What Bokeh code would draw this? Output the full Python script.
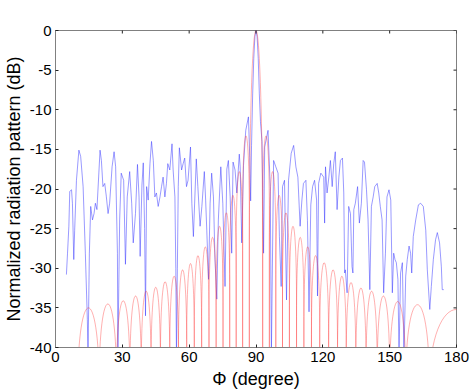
import math
from bokeh.plotting import figure
from bokeh.models import FixedTicker, Range1d
from bokeh.embed import file_html
from bokeh.resources import INLINE

# ---------------- data ----------------
X_TICKS = [0, 30, 60, 90, 120, 150, 180]
Y_TICKS = [-40, -35, -30, -25, -20, -15, -10, -5, 0]
Y_TICK_LABELS = ["-40", "-35", "-30", "-25", "-20", "-15", "-10", "-5", "0"]
X_LABEL = "\u03a6 (degree)"
Y_LABEL = "Normalized radiation pattern (dB)"

# blue: measured / synthesized pattern (degree, dB)
BLUE_X = [4.9, 5.4, 6.0, 6.4, 7.2, 7.6, 8.2, 8.6, 9.4, 10.5, 11.3, 12.4, 13.4, 14.3, 14.6,
          15.2, 15.8, 16.6, 17.3, 17.9, 18.6, 20.0, 20.6, 21.3, 22.1, 22.8, 23.6, 24.3, 25.4,
          26.3, 27.0, 27.8, 28.0, 28.8, 29.5, 30.6, 31.4, 32.2, 33.3, 34.2, 34.9, 35.9, 36.8,
          37.5, 38.0, 38.8, 39.4, 40.0, 40.4, 40.9, 41.6, 42.4, 43.1, 43.9, 44.6, 45.3, 46.1,
          46.9, 47.6, 48.3, 49.1, 49.8, 50.4, 51.3, 52.3, 52.8, 53.6, 54.0, 54.3, 54.7, 55.1,
          55.6, 56.6, 57.3, 58.0, 58.8, 59.5, 60.6, 61.2, 61.9, 63.2, 63.9, 64.9, 65.7, 66.8,
          67.4, 67.9, 68.7, 69.4, 70.1, 70.9, 71.6, 72.4, 73.1, 74.2, 75.1, 76.1, 76.9, 77.6,
          78.4, 79.1, 79.7, 80.6, 81.4, 82.5, 82.9, 83.6, 84.4, 85.4, 86.6, 87.2, 87.6, 88.0,
          88.5, 89.0, 89.5, 90.0, 90.5, 91.0, 91.5, 92.0, 92.7, 93.2, 93.4, 93.9, 95.4, 96.4,
          96.9, 97.9, 98.9, 99.9, 100.5, 101.3, 101.9, 102.8, 103.7, 104.6, 105.8, 106.9, 107.9,
          108.8, 109.8, 110.6, 111.3, 112.4, 113.1, 113.8, 114.6, 115.4, 116.3, 117.2, 117.6,
          118.1, 119.1, 120.4, 120.8, 121.2, 121.9, 122.7, 123.4, 124.2, 124.9, 125.6, 126.4,
          127.2, 127.9, 128.8, 129.4, 129.8, 130.1, 130.9, 131.6, 132.4, 133.1, 133.5, 133.9,
          134.6, 135.6, 136.4, 137.3, 138.1, 138.7, 139.6, 140.3, 141.1, 141.8, 142.6, 143.3,
          144.4, 145.1, 145.8, 146.6, 147.3, 148.1, 148.8, 149.7, 150.5, 151.2, 151.8, 152.4,
          153.0, 153.7, 154.2, 154.9, 155.7, 156.4, 157.2, 157.9, 158.7, 159.4, 159.9, 160.6,
          161.7, 162.9, 163.9, 165.1, 166.2, 166.9, 168.0, 168.7, 169.6, 170.6, 171.4, 172.4,
          173.2, 173.6, 174.3]
BLUE_Y = [-30.8, -28.1, -24.7, -20.3, -20.1, -21.8, -28.9, -25.2, -18.9, -15.1, -15.9, -19.7, -28.1, -36.5, -41.0,
          -28.1, -22.2, -23.9, -23.1, -21.8, -22.6, -15.1, -16.4, -19.7, -19.3, -20.9, -23.1, -21.8, -17.2,
          -15.3, -17.2, -28.1, -41.0, -23.9, -18.0, -18.9, -29.5, -21.0, -17.8, -21.8, -26.8, -23.1, -16.9,
          -21.0, -28.5, -19.5, -16.7, -25.0, -36.0, -19.7, -21.4, -16.8, -14.0, -16.4, -21.0, -20.5, -22.2,
          -21.0, -19.7, -18.5, -21.0, -19.3, -16.8, -17.6, -14.3, -17.6, -21.0, -30.0, -41.0, -30.0, -19.7,
          -14.8, -17.6, -16.8, -16.1, -19.7, -18.9, -14.7, -21.8, -26.0, -16.2, -19.7, -24.7, -22.2, -17.8,
          -21.4, -25.2, -31.4, -21.8, -18.0, -21.0, -28.9, -33.9, -23.9, -17.2, -21.8, -32.3, -17.5, -16.4,
          -21.0, -28.1, -16.6, -17.6, -20.5, -15.6, -17.2, -26.8, -17.0, -12.6, -10.9, -16.0, -21.5, -14.5,
          -8.0, -3.5, -0.8, 0.0, -0.8, -3.5, -8.0, -11.5, -14.0, -24.0, -28.1, -14.7, -12.6, -19.7,
          -41.0, -16.4, -17.2, -18.0, -26.0, -32.3, -19.7, -18.9, -34.0, -18.9, -15.5, -14.5, -17.2,
          -18.5, -24.7, -21.4, -19.3, -18.9, -24.0, -35.5, -22.0, -19.7, -18.9, -21.4, -33.5,
          -19.3, -18.0, -18.5, -24.3, -17.2, -20.5, -18.5, -16.4, -19.7, -16.8, -15.3, -22.6,
          -18.5, -16.4, -16.1, -20.5, -30.6, -30.2, -33.1, -22.2, -23.1, -29.8, -30.6, -22.6,
          -21.8, -19.7, -24.3, -21.8, -16.4, -16.6, -20.1, -23.9, -32.7, -22.2, -21.0, -19.7,
          -19.3, -20.5, -22.2, -23.9, -33.1, -28.1, -21.0, -20.1, -21.4, -33.1, -28.1, -28.9,
          -29.3, -31.4, -41.0, -30.6, -29.3, -41.0, -31.0, -28.9, -27.2, -28.1, -30.6, -26.0,
          -23.9, -22.0, -21.8, -22.2, -25.2, -30.2, -35.2, -32.3, -28.9, -26.4, -25.5, -26.8,
          -29.8, -32.7, -32.7]

# red: uniform-array reference pattern, lobe nulls (degree) and lobe peaks (dB)
RED_NULLS = [10.0, 19.6, 27.4, 33.4, 38.5, 42.9, 47.1, 51.3, 55.2, 58.9, 62.3, 65.6, 68.9,
             72.1, 75.2, 78.2, 81.1, 84.0, 87.0, 93.0, 96.0, 98.9, 101.9, 105.0, 108.2, 111.5,
             114.9, 118.6, 122.6, 126.6, 130.5, 134.8, 139.4, 144.4, 150.0, 157.2, 167.8, 192.2]
RED_PEAKS = [-35.0, -34.5, -34.1, -33.5, -32.9, -32.4, -31.7, -31.0, -30.2, -29.4, -28.4, -27.3,
             -26.1, -24.7, -23.0, -20.8, -17.8, -13.3, 0.0, -13.3, -17.8, -20.8, -23.0, -24.7,
             -26.1, -27.3, -28.4, -29.3, -30.2, -31.0, -31.8, -32.5, -32.9, -33.5, -34.2, -34.6,
             -35.2]

BLUE = "#3030ff"
RED = "#ff3030"
AXIS_GRAY = "#808080"
FONT = "Liberation Sans"

X_MIN, X_MAX = 0, 180
Y_MIN, Y_MAX = -40, 0

# ---------------- figure ----------------
p = figure(width=474, height=391, output_backend="svg", toolbar_location=None,
           x_range=Range1d(X_MIN, X_MAX), y_range=Range1d(Y_MIN, Y_MAX),
           min_border_left=54, min_border_right=18, min_border_top=30, min_border_bottom=44)
p.background_fill_color = "white"
p.border_fill_color = "white"
p.outline_line_color = AXIS_GRAY
p.xgrid.visible = False
p.ygrid.visible = False

for ax in (p.xaxis[0], p.yaxis[0]):
    ax.axis_line_color = AXIS_GRAY
    ax.major_tick_line_color = "#222222"
    ax.major_tick_in = 3
    ax.major_tick_out = 0
    ax.minor_tick_line_color = None
    ax.major_label_text_font = FONT
    ax.major_label_text_font_size = "15px"
    ax.major_label_text_color = "black"
    ax.major_label_standoff = 4
    ax.axis_label_text_font = FONT
    ax.axis_label_text_font_size = "18px"
    ax.axis_label_text_font_style = "normal"
    ax.axis_label_text_color = "black"
p.xaxis.axis_label_standoff = 4
p.yaxis.axis_label_standoff = 3

p.xaxis.ticker = FixedTicker(ticks=X_TICKS)
p.yaxis.ticker = FixedTicker(ticks=Y_TICKS)
p.yaxis.major_label_overrides = {t: s for t, s in zip(Y_TICKS, Y_TICK_LABELS)}
p.xaxis.axis_label = X_LABEL
p.yaxis.axis_label = Y_LABEL

# blue pattern
p.line(BLUE_X, BLUE_Y, line_color=BLUE, line_width=0.7, line_alpha=0.7)

# red pattern: each lobe drawn as a bezier arch between its nulls
x0, y0, x1, y1, cx0, cy0, cx1, cy1 = [], [], [], [], [], [], [], []
sx, sy0, sy1 = [], [], []
for i, pk in enumerate(RED_PEAKS):
    a, b = RED_NULLS[i], RED_NULLS[i + 1]
    depth = 30.0 if pk > -5 else 10.0
    base = pk - depth
    ctrl = pk + depth / 3.0
    x0.append(a); y0.append(base); x1.append(b); y1.append(base)
    cx0.append(a); cy0.append(ctrl); cx1.append(b); cy1.append(ctrl)
    for xx in (a, b):
        sx.append(xx); sy0.append(base); sy1.append(-60.0)

p.segment(x0=sx, y0=sy0, x1=sx, y1=sy1, line_color=RED, line_width=0.7, line_alpha=0.55)
p.bezier(x0=x0, y0=y0, x1=x1, y1=y1, cx0=cx0, cy0=cy0, cx1=cx1, cy1=cy1,
         line_color=RED, line_width=0.7, line_alpha=0.55)

# mirrored tick marks on the top and right frame edges (MATLAB box style)
p.scatter(X_TICKS, [Y_MAX] * len(X_TICKS), marker="dash", size=6, angle=math.pi / 2,
          line_color="#222222", line_width=1)
p.scatter([X_MAX] * len(Y_TICKS), Y_TICKS, marker="dash", size=6, angle=0,
          line_color="#222222", line_width=1)

open("out.html", "w").write(file_html(p, INLINE))
